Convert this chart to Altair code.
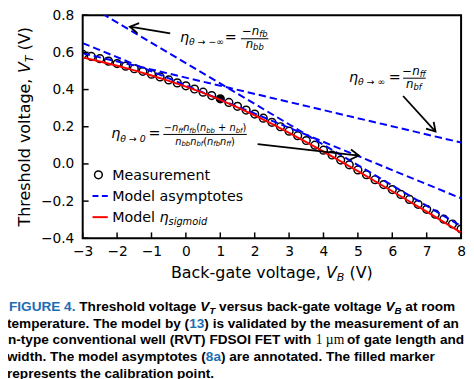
import math
import altair as alt
import pandas as pd

# ---------------- data ----------------
vb_meas = [-3.0, -2.75, -2.5, -2.25, -2.0, -1.75, -1.5, -1.25, -1.0, -0.75, -0.5, -0.25,
           0.0, 0.25, 0.5, 0.75, 1.0, 1.25, 1.5, 1.75, 2.0, 2.25, 2.5, 2.75,
           3.0, 3.25, 3.5, 3.75, 4.0, 4.25, 4.5, 4.75, 5.0, 5.25, 5.5, 5.75,
           6.0, 6.25, 6.5, 6.75, 7.0, 7.25, 7.5, 7.75, 8.0]
vt_meas = [0.590, 0.578, 0.566, 0.553, 0.540, 0.526, 0.512, 0.498, 0.483, 0.468, 0.452, 0.436,
           0.420, 0.403, 0.386, 0.368, 0.350, 0.331, 0.310, 0.290, 0.268, 0.246, 0.224, 0.200,
           0.176, 0.152, 0.126, 0.101, 0.074, 0.048, 0.021, -0.005, -0.032, -0.058, -0.085, -0.111,
           -0.138, -0.164, -0.191, -0.217, -0.244, -0.270, -0.297, -0.323, -0.350]
vb_model = [-3.0, -2.5, -2.0, -1.5, -1.0, -0.5, 0.0, 0.5, 1.0, 1.5, 2.0, 2.5,
            3.0, 3.5, 4.0, 4.5, 5.0, 5.5, 6.0, 6.5, 7.0, 7.5, 8.0]
vt_model = [0.573, 0.551, 0.528, 0.503, 0.476, 0.447, 0.416, 0.382, 0.345, 0.304, 0.261, 0.215,
            0.167, 0.117, 0.066, 0.014, -0.039, -0.093, -0.147, -0.202, -0.257, -0.313, -0.369]
asym_vb = [-3.0, 8.0]
asym_neg_inf = [0.871, -0.335]
asym_pos_inf = [0.595, 0.115]
asym_zero = [0.650, -0.185]
calib_vb = [1.0]
calib_vt = [0.350]
x_ticks = [-3, -2, -1, 0, 1, 2, 3, 4, 5, 6, 7, 8]
y_ticks = [-0.4, -0.2, 0.0, 0.2, 0.4, 0.6, 0.8]

# ---------------- layout helpers ----------------
W, H = 385, 227
X0, Y0 = 84, 12
XMIN, XMAX, YMIN, YMAX = -3.0, 8.0, -0.4, 0.8


def page2d(X, Y):
    return XMIN + (X - X0) * (XMAX - XMIN) / W, YMAX - (Y - Y0) * (YMAX - YMIN) / H


def ref2d(X, Y):
    return XMIN + (X - 84) * 11.0 / 385, YMAX - (Y - 7) * 1.2 / 232


def cap2d(X, Y):
    return page2d(X + 7, Y)


# DejaVu Sans advance widths (em)
CW = {'η': 0.634, 'θ': 0.602, '→': 0.838, '∞': 0.833, '−': 0.838, '=': 0.838, '+': 0.838,
      ' ': 0.318, '(': 0.390, ')': 0.390, ',': 0.318, '-': 0.361, '0': 0.636,
      'a': 0.613, 'b': 0.635, 'c': 0.550, 'd': 0.635, 'e': 0.615, 'f': 0.352, 'g': 0.635,
      'h': 0.634, 'i': 0.278, 'k': 0.579, 'l': 0.278, 'm': 0.974, 'n': 0.634, 'o': 0.612,
      'p': 0.635, 'r': 0.411, 's': 0.521, 't': 0.392, 'u': 0.634, 'v': 0.592, 'y': 0.592,
      'B': 0.686, 'M': 0.863, 'T': 0.611, 'V': 0.684}

# Liberation Sans Bold advance widths (em)
CWB = {' ': .278, '(': .333, ')': .333, '.': .278, ',': .278, '-': .333,
       'A': .722, 'B': .722, 'C': .722, 'D': .722, 'E': .667, 'F': .611, 'G': .778, 'H': .722,
       'I': .278, 'J': .556, 'K': .722, 'L': .611, 'M': .833, 'N': .722, 'O': .778, 'P': .667,
       'Q': .778, 'R': .722, 'S': .667, 'T': .611, 'U': .722, 'V': .667, 'W': .944, 'X': .667,
       'Y': .667, 'Z': .611,
       'a': .556, 'b': .611, 'c': .556, 'd': .611, 'e': .556, 'f': .333, 'g': .611, 'h': .611,
       'i': .278, 'j': .278, 'k': .556, 'l': .278, 'm': .889, 'n': .611, 'o': .611, 'p': .611,
       'q': .611, 'r': .389, 's': .556, 't': .333, 'u': .611, 'v': .556, 'w': .778, 'x': .556,
       'y': .556, 'z': .500}
# Liberation Serif widths (em)
CWS = {'1': .5, ' ': .25, 'µ': .5, 'm': .778}


def tw(s, fs, table=None):
    table = table or CW
    dflt = 0.556 if table is CWB else 0.6
    return sum(table.get(c, dflt) for c in s) * fs


text_rows = []


def add(text, X, Y, fs, cls, conv, col='black', table=None):
    lead = len(text) - len(text.lstrip())
    X = X + tw(' ' * lead, fs, table)
    vb, vt = conv(X, Y)
    text_rows.append(dict(VB=vb, VT=vt, text=text.strip(), fs=fs, cls=cls, col=col))


def run(tokens, X, base, conv, center=False):
    total = sum(tw(t, fs) for t, fs, dy, c in tokens)
    x = X - total / 2 if center else X
    for t, fs, dy, c in tokens:
        add(t, x, base + dy, fs, c, conv)
        x += tw(t, fs)


# --- annotation 1: eta -> -inf
run([("η", 14.5, 0, 'dvi'), ("θ → −∞", 9.5, 3.5, 'dvi')], 183, 35, ref2d)
add("=", 228.5, 35, 14.5, 'dv', ref2d)
run([("−", 12, 0, 'dv'), ("n", 12, 0, 'dvi'), ("fb", 8.5, 2, 'dvi')], 259, 28, ref2d, center=True)
run([("n", 12, 0, 'dvi'), ("bb", 8.5, 2, 'dvi')], 259, 41.5, ref2d, center=True)
# --- annotation 2: eta -> inf
run([("η", 14.5, 0, 'dvi'), ("θ → ∞", 9.5, 3.5, 'dvi')], 355, 76, ref2d)
add("=", 395.5, 76, 14.5, 'dv', ref2d)
run([("−", 12, 0, 'dv'), ("n", 12, 0, 'dvi'), ("ff", 8.5, 2, 'dvi')], 421, 69, ref2d, center=True)
run([("n", 12, 0, 'dvi'), ("bf", 8.5, 2, 'dvi')], 421, 82.5, ref2d, center=True)
# --- annotation 3: eta -> 0
run([("η", 14.5, 0, 'dvi'), ("θ → 0", 9.5, 3.5, 'dvi')], 113, 135, ref2d)
add("=", 151, 135, 14.5, 'dv', ref2d)
run([("−", 10, 0, 'dv'), ("n", 10, 0, 'dvi'), ("ff", 7, 2, 'dvi'), ("n", 10, 0, 'dvi'),
     ("fb", 7, 2, 'dvi'), ("(", 10, 0, 'dv'), ("n", 10, 0, 'dvi'), ("bb", 7, 2, 'dvi'),
     (" + ", 10, 0, 'dv'), ("n", 10, 0, 'dvi'), ("bf", 7, 2, 'dvi'), (")", 10, 0, 'dv')],
    208.5, 127, ref2d, center=True)
run([("n", 10, 0, 'dvi'), ("bb", 7, 2, 'dvi'), ("n", 10, 0, 'dvi'), ("bf", 7, 2, 'dvi'),
     ("(", 10, 0, 'dv'), ("n", 10, 0, 'dvi'), ("fb", 7, 2, 'dvi'), ("n", 10, 0, 'dvi'),
     ("ff", 7, 2, 'dvi'), (")", 10, 0, 'dv')], 208.5, 141.5, ref2d, center=True)

# --- legend texts
add("Measurement", 114, 178, 14.5, 'dv', ref2d)
add("Model asymptotes", 114, 200, 14.5, 'dv', ref2d)
run([("Model ", 14.5, 0, 'dv'), ("η", 14.5, 0, 'dvi'), ("sigmoid", 10, 3.5, 'dvi')], 114, 222, ref2d)

# --- x axis title
run([("Back-gate voltage, ", 16.2, 0, 'dv'), ("V", 16.2, 0, 'dvi'), ("B", 11.3, 3.5, 'dvi'),
     (" (V)", 16.2, 0, 'dv')], 276.5, 279, page2d, center=True)

# --- y axis title (rotated)
ytok = [("Threshold voltage, ", 16.2, 0, 'dvr'), ("V", 16.2, 0, 'dvir'), ("T", 11.3, 3.5, 'dvir'),
        (" (V)", 16.2, 0, 'dvr')]
ytot = sum(tw(t, fs) for t, fs, dy, c in ytok)
yy = 125.5 + ytot / 2
for t, fs, dy, c in ytok:
    lead = len(t) - len(t.lstrip())
    vb, vt = page2d(30 + dy, yy - tw(' ' * lead, fs))
    text_rows.append(dict(VB=vb, VT=vt, text=t.strip(), fs=fs, cls=c, col='black'))
    yy -= tw(t, fs)

# --- caption (bold sans, blue references)
BLUE = '#1b6db3'
line2_full = "temperature. The model by (13) is validated by the measurement of an"
CFS = 460.0 / tw(line2_full, 1.0, CWB)
SUB = 0.72
cap_lines = [
    (2, 313, [("FIGURE 4. ", 'lb', BLUE, 1.0, 0), ("Threshold voltage ", 'lb', 'black', 1.0, 0),
              ("V", 'lbi', 'black', 1.0, 0), ("T", 'lbi', 'black', SUB, 3),
              (" versus back-gate voltage ", 'lb', 'black', 1.0, 0),
              ("V", 'lbi', 'black', 1.0, 0), ("B", 'lbi', 'black', SUB, 3),
              (" at room", 'lb', 'black', 1.0, 0)]),
    (0, 330, [("temperature. The model by (", 'lb', 'black', 1.0, 0), ("13", 'lb', BLUE, 1.0, 0),
              (") is validated by the measurement of an", 'lb', 'black', 1.0, 0)]),
    (1, 347, [("n-type conventional well (RVT) FDSOI FET with ", 'lb', 'black', 1.0, 0),
              ("1 µm", 'sr', 'black', 1.0, 0), (" of gate length and", 'lb', 'black', 1.0, 0)]),
    (0, 364, [("width. The model asymptotes (", 'lb', 'black', 1.0, 0), ("8a", 'lb', BLUE, 1.0, 0),
              (") are annotated. The filled marker", 'lb', 'black', 1.0, 0)]),
    (0, 381, [("represents the calibration point.", 'lb', 'black', 1.0, 0)]),
]
for xs0, base, toks in cap_lines:
    x = xs0
    for t, c, col, f, dy in toks:
        table = CWS if c == 'sr' else CWB
        fs = CFS * f
        add(t, x, base + dy, fs, c, cap2d, col, table)
        x += tw(t, fs, table)

text_df = pd.DataFrame(text_rows)

# ---------------- scales / axes ----------------
xs = alt.Scale(domain=[XMIN, XMAX], nice=False, zero=False)
ys = alt.Scale(domain=[YMIN, YMAX], nice=False, zero=False)
xaxis = alt.Axis(values=x_ticks, title=None, domain=False, ticks=False, tickSize=0, grid=False,
                 labelPadding=6, labelFlush=False, labelOverlap=False)
yaxis = alt.Axis(values=y_ticks, format='.1f', title=None, domain=False, ticks=False, tickSize=0,
                 grid=False, labelPadding=9, labelFlush=False, labelOverlap=False)


def X(f='VB'):
    return alt.X(f + ':Q', scale=xs, axis=xaxis)


def Y(f='VT'):
    return alt.Y(f + ':Q', scale=ys, axis=yaxis)


meas_df = pd.DataFrame({'VB': vb_meas, 'VT': vt_meas})
model_df = pd.DataFrame({'VB': vb_model, 'VT': vt_model})
calib_df = pd.DataFrame({'VB': calib_vb, 'VT': calib_vt})
asym_df = pd.concat([
    pd.DataFrame({'VB': asym_vb, 'VT': asym_neg_inf, 'name': 'neg_inf'}),
    pd.DataFrame({'VB': asym_vb, 'VT': asym_pos_inf, 'name': 'pos_inf'}),
    pd.DataFrame({'VB': asym_vb, 'VT': asym_zero, 'name': 'zero'}),
])

layers = []
layers.append(alt.Chart(meas_df).mark_point(filled=False, color='black', size=62, strokeWidth=1.5,
                                            opacity=1, clip=True).encode(x=X(), y=Y()))
layers.append(alt.Chart(calib_df).mark_point(filled=True, color='black', size=62, opacity=1)
              .encode(x=X(), y=Y()))
layers.append(alt.Chart(asym_df).mark_line(color='#0000ff', strokeDash=[7.5, 4], strokeWidth=2,
                                           clip=True)
              .encode(x=X(), y=Y(), detail='name:N'))
layers.append(alt.Chart(model_df).mark_line(color='#ff0000', strokeWidth=2, clip=True)
              .encode(x=X(), y=Y()))

# inward ticks
layers.append(alt.Chart(pd.DataFrame({'VB': x_ticks})).mark_rule(color='black', strokeWidth=1.5)
              .encode(x=X(), y=alt.value(H), y2=alt.value(H - 6)))
layers.append(alt.Chart(pd.DataFrame({'VT': y_ticks})).mark_rule(color='black', strokeWidth=1.5)
              .encode(y=Y(), x=alt.value(0), x2=alt.value(6)))

# legend symbols
lc = ref2d(100, 173)
layers.append(alt.Chart(pd.DataFrame({'VB': [lc[0]], 'VT': [lc[1]]}))
              .mark_point(filled=False, color='black', size=62, strokeWidth=1.5, opacity=1)
              .encode(x=X(), y=Y()))
la, la2 = ref2d(94, 195), ref2d(109.5, 195)
layers.append(alt.Chart(pd.DataFrame({'VB': [la[0]], 'VB2': [la2[0]], 'VT': [la[1]]}))
              .mark_rule(color='#0000ff', strokeDash=[6, 3.5], strokeWidth=2)
              .encode(x=X(), x2='VB2:Q', y=Y()))
lr, lr2 = ref2d(94, 217), ref2d(109.5, 217)
layers.append(alt.Chart(pd.DataFrame({'VB': [lr[0]], 'VB2': [lr2[0]], 'VT': [lr[1]]}))
              .mark_rule(color='#ff0000', strokeWidth=2)
              .encode(x=X(), x2='VB2:Q', y=Y()))

# fraction bars
bars = [(245, 273, 31.5), (410, 433, 72.5), (166, 251, 131)]
brow = []
for a, b, yb in bars:
    p, q = ref2d(a, yb), ref2d(b, yb)
    brow.append(dict(VB=p[0], VB2=q[0], VT=p[1]))
layers.append(alt.Chart(pd.DataFrame(brow)).mark_rule(color='black', strokeWidth=1)
              .encode(x=X(), x2='VB2:Q', y=Y()))

# arrows
arrows = [((173, 26), (132, 19)), ((410, 91), (443, 128)), ((262, 141), (365, 153))]
arow = []
for (tx, ty), (hx, hy) in arrows:
    t, h = ref2d(tx, ty), ref2d(hx, hy)
    ang = math.degrees(math.atan2(hy - ty, hx - tx)) % 360
    arow.append(dict(VB=t[0], VT=t[1], VB2=h[0], VT2=h[1], ang=ang))
arrow_df = pd.DataFrame(arow)
layers.append(alt.Chart(arrow_df).mark_rule(color='black', strokeWidth=1.8)
              .encode(x=X(), y=Y(), x2='VB2:Q', y2='VT2:Q'))
layers.append(alt.Chart(arrow_df).mark_point(shape='M -1 -0.6 L 0 0 L -1 0.6', filled=False,
                                             color='black', strokeWidth=1.8, size=300, opacity=1)
              .encode(x=X('VB2'), y=Y('VT2'), angle=alt.Angle('ang:Q', scale=None)))

# texts
styles = {
    'dv': dict(font='DejaVu Sans'),
    'dvi': dict(font='DejaVu Sans', fontStyle='italic'),
    'dvr': dict(font='DejaVu Sans', angle=270),
    'dvir': dict(font='DejaVu Sans', fontStyle='italic', angle=270),
    'lb': dict(font='Liberation Sans', fontWeight='bold'),
    'lbi': dict(font='Liberation Sans', fontWeight='bold', fontStyle='italic'),
    'sr': dict(font='Liberation Serif'),
}
for cls, kw in styles.items():
    sub = text_df[text_df['cls'] == cls]
    if len(sub) == 0:
        continue
    layers.append(alt.Chart(sub).mark_text(align='left', baseline='alphabetic', **kw)
                  .encode(x=X(), y=Y(), text='text:N',
                          size=alt.Size('fs:Q', scale=None, legend=None),
                          color=alt.Color('col:N', scale=None, legend=None)))

chart = alt.layer(*layers).properties(
    width=W, height=H,
    autosize=alt.AutoSizeParams(type='none'),
    padding={'left': 76, 'top': 4, 'right': 5, 'bottom': 150},
).configure_view(stroke='black', strokeWidth=2).configure_axis(
    labelFont='DejaVu Sans', labelFontSize=14, labelColor='black')

chart.save("out.html", embed_options={"renderer": "svg", "actions": False})
